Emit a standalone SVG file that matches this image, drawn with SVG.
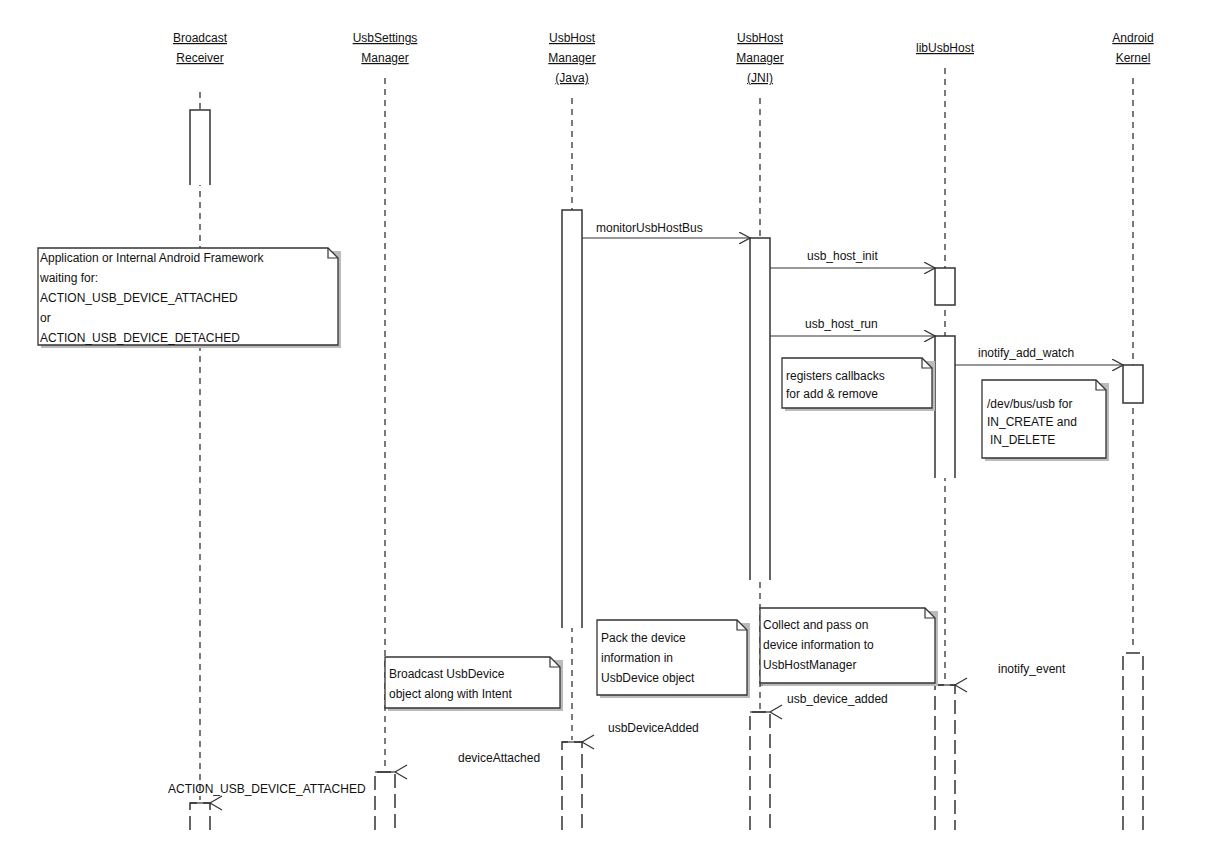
<svg xmlns="http://www.w3.org/2000/svg" width="1212" height="842" viewBox="0 0 1212 842">
<style>
text{font-family:"Liberation Sans",Arial,sans-serif;font-size:12px;fill:#111}
.h{text-decoration:underline;text-anchor:middle}
.ll{stroke:#333;stroke-width:1.3;stroke-dasharray:6,5}
.act{fill:#fff;stroke:#333;stroke-width:1.5}
.da{stroke:#333;stroke-width:2;stroke-dasharray:14,6}
.m{stroke:#333;stroke-width:1.2;fill:none}
.note{fill:#fff;stroke:#333;stroke-width:1.3}
.sh{fill:#bbb}
</style>
<defs>
<marker id="a" markerWidth="12" markerHeight="12" refX="11" refY="6" orient="auto" markerUnits="userSpaceOnUse"><path d="M0,0 L11,6 L0,12" fill="none" stroke="#333" stroke-width="1.2"/></marker>
</defs>
<g id="heads">
<text class="h" x="200" y="42">Broadcast</text><text class="h" x="200" y="62">Receiver</text>
<text class="h" x="385" y="42">UsbSettings</text><text class="h" x="385" y="62">Manager</text>
<text class="h" x="572" y="42">UsbHost</text><text class="h" x="572" y="62">Manager</text><text class="h" x="572" y="82">(Java)</text>
<text class="h" x="760" y="42">UsbHost</text><text class="h" x="760" y="62">Manager</text><text class="h" x="760" y="82">(JNI)</text>
<text class="h" x="945" y="52">libUsbHost</text>
<text class="h" x="1133" y="42">Android</text><text class="h" x="1133" y="62">Kernel</text>
</g>
<g id="lifelines">
<line class="ll" x1="200" y1="92" x2="200" y2="800"/>
<line class="ll" x1="385" y1="78" x2="385" y2="770"/>
<line class="ll" x1="572" y1="98" x2="572" y2="740"/>
<line class="ll" x1="760" y1="98" x2="760" y2="710"/>
<line class="ll" x1="945" y1="68" x2="945" y2="683"/>
<line class="ll" x1="1133" y1="78" x2="1133" y2="650"/>
</g>
<g id="activations">
<path class="act" d="M190,185 V110 H210 V185"/>
<path class="act" d="M562,628 V210 H582 V628"/>
<path class="act" d="M750,580 V238 H770 V580"/>
<rect class="act" x="935" y="268" width="20" height="37"/>
<path class="act" d="M935,478 V336 H955 V478"/>
<rect class="act" x="1123" y="365" width="20" height="38"/>
<path class="act" d="M1123,830 V653 H1143 V830" stroke-dasharray="14,6"/>
<path class="act" d="M935,830 V685 H955 V830" stroke-dasharray="14,6"/>
<path class="act" d="M750,830 V712 H770 V830" stroke-dasharray="14,6"/>
<path class="act" d="M562,830 V742 H582 V830" stroke-dasharray="14,6"/>
<path class="act" d="M375,830 V772 H395 V830" stroke-dasharray="14,6"/>
<path class="act" d="M190,830 V803 H210 V830" stroke-dasharray="14,6"/>
</g>
<g id="connectors">
<line class="m" x1="582" y1="238" x2="750" y2="238" marker-end="url(#a)"/>
<line class="m" x1="770" y1="268" x2="935" y2="268" marker-end="url(#a)"/>
<line class="m" x1="770" y1="336" x2="935" y2="336" marker-end="url(#a)"/>
<line class="m" x1="955" y1="365" x2="1123" y2="365" marker-end="url(#a)"/>
<line class="m" x1="935" y1="685" x2="955" y2="685"/><line class="m" x1="955" y1="685" x2="967" y2="678"/><line class="m" x1="955" y1="685" x2="967" y2="692"/>
<line class="m" x1="760" y1="685" x2="935" y2="685"/>
<line class="m" x1="750" y1="712" x2="770" y2="712"/><line class="m" x1="770" y1="712" x2="782" y2="705"/><line class="m" x1="770" y1="712" x2="782" y2="719"/>
<line class="m" x1="562" y1="742" x2="582" y2="742"/><line class="m" x1="582" y1="742" x2="594" y2="735"/><line class="m" x1="582" y1="742" x2="594" y2="749"/>
<line class="m" x1="375" y1="772" x2="395" y2="772"/><line class="m" x1="395" y1="772" x2="407" y2="765"/><line class="m" x1="395" y1="772" x2="407" y2="779"/>
<line class="m" x1="190" y1="803" x2="210" y2="803"/><line class="m" x1="210" y1="803" x2="222" y2="796"/><line class="m" x1="210" y1="803" x2="222" y2="810"/>
</g>
<g id="labels">
<text x="596" y="232">monitorUsbHostBus</text>
<text x="807" y="260">usb_host_init</text>
<text x="805" y="328">usb_host_run</text>
<text x="978" y="357">inotify_add_watch</text>
<text x="998" y="673">inotify_event</text>
<text x="787" y="703">usb_device_added</text>
<text x="608" y="732">usbDeviceAdded</text>
<text x="458" y="762">deviceAttached</text>
<text x="168" y="793">ACTION_USB_DEVICE_ATTACHED</text>
</g>
<g id="note1"><path class="sh" d="M41,251 H341 V348 H41Z"/><path class="note" d="M38,248 H328 L338,258 V345 H38Z"/><path class="m" d="M328,248 V258 H338"/>
<text x="40" y="262">Application or Internal Android Framework</text><text x="40" y="282">waiting for:</text><text x="40" y="302">ACTION_USB_DEVICE_ATTACHED</text><text x="40" y="322">or</text><text x="40" y="342">ACTION_USB_DEVICE_DETACHED</text></g>
<g id="note2"><path class="sh" d="M785,361 H935 V411 H785Z"/><path class="note" d="M782,358 H922 L932,368 V408 H782Z"/><path class="m" d="M922,358 V368 H932"/>
<text x="786" y="380">registers callbacks</text><text x="786" y="398">for add &amp; remove</text></g>
<g id="note3"><path class="sh" d="M985,383 H1109 V461 H985Z"/><path class="note" d="M982,380 H1096 L1106,390 V458 H982Z"/><path class="m" d="M1096,380 V390 H1106"/>
<text x="987" y="408">/dev/bus/usb for</text><text x="987" y="426">IN_CREATE and</text><text x="990" y="444">IN_DELETE</text></g>
<g id="note4"><path class="sh" d="M600,623 H750 V698 H600Z"/><path class="note" d="M597,620 H737 L747,630 V695 H597Z"/><path class="m" d="M737,620 V630 H747"/>
<text x="601" y="642">Pack the device</text><text x="601" y="662">information in</text><text x="601" y="682">UsbDevice object</text></g>
<g id="note5"><path class="sh" d="M763,611 H938 V686 H763Z"/><path class="note" d="M760,608 H925 L935,618 V683 H760Z"/><path class="m" d="M925,608 V618 H935"/>
<text x="763" y="629">Collect and pass on</text><text x="763" y="649">device information to</text><text x="763" y="669">UsbHostManager</text></g>
<g id="note6"><path class="sh" d="M388,660 H563 V711 H388Z"/><path class="note" d="M385,657 H550 L560,667 V708 H385Z"/><path class="m" d="M550,657 V667 H560"/>
<text x="389" y="678">Broadcast UsbDevice</text><text x="389" y="698">object along with Intent</text></g>
</svg>
